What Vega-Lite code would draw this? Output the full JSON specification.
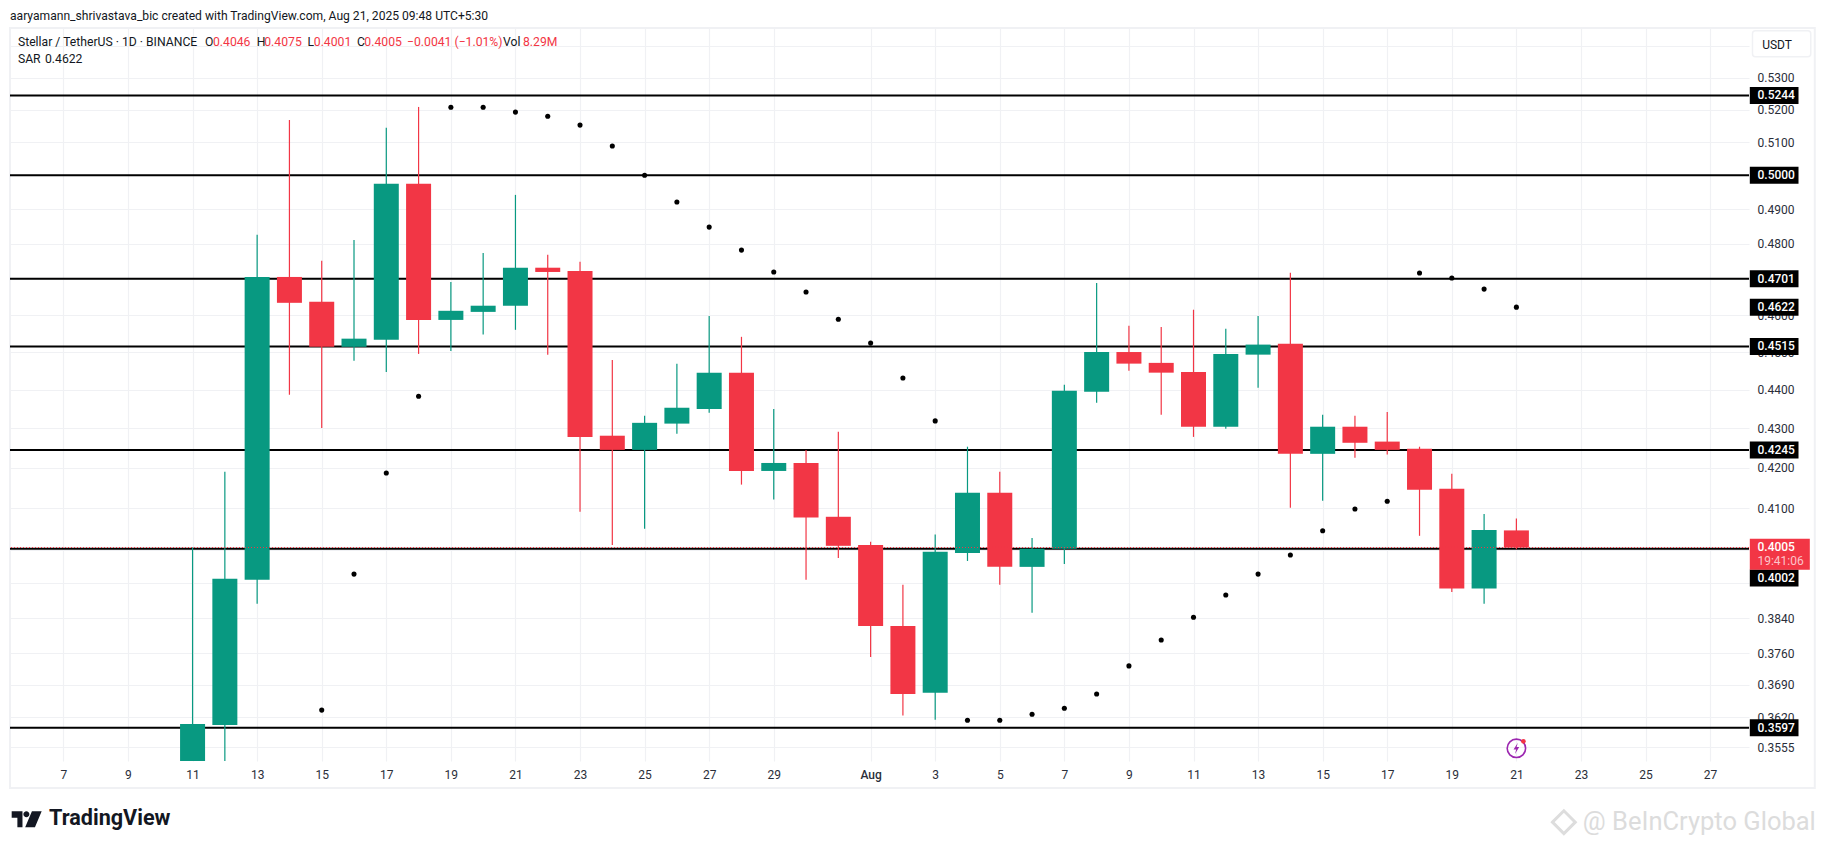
{
  "$schema": "https://vega.github.io/schema/vega-lite/v6.json",
  "autosize": "none",
  "width": 1739,
  "height": 733,
  "padding": {"left": 10, "top": 28, "right": 76, "bottom": 88},
  "background": "white",
  "title": {
    "text": "aaryamann_shrivastava_bic created with TradingView.com, Aug 21, 2025 09:48 UTC+5:30",
    "anchor": "start",
    "frame": "group",
    "offset": 5,
    "font": "Roboto",
    "fontSize": 12.1,
    "fontWeight": "normal",
    "color": "#131722"
  },
  "datasets": {
    "candles": [
      {"date": "2025-07-11", "open": 0.348, "high": 0.4005, "low": 0.34, "close": 0.3605},
      {"date": "2025-07-12", "open": 0.3603, "high": 0.419, "low": 0.345, "close": 0.3931},
      {"date": "2025-07-13", "open": 0.3929, "high": 0.4826, "low": 0.3873, "close": 0.4706},
      {"date": "2025-07-14", "open": 0.4706, "high": 0.5168, "low": 0.4387, "close": 0.4634},
      {"date": "2025-07-15", "open": 0.4637, "high": 0.4752, "low": 0.4301, "close": 0.4514},
      {"date": "2025-07-16", "open": 0.4514, "high": 0.4811, "low": 0.4477, "close": 0.4536},
      {"date": "2025-07-17", "open": 0.4533, "high": 0.5144, "low": 0.4447, "close": 0.4975},
      {"date": "2025-07-18", "open": 0.4975, "high": 0.5208, "low": 0.4495, "close": 0.4587},
      {"date": "2025-07-19", "open": 0.4587, "high": 0.4692, "low": 0.4503, "close": 0.4612},
      {"date": "2025-07-20", "open": 0.4609, "high": 0.4774, "low": 0.4547, "close": 0.4626},
      {"date": "2025-07-21", "open": 0.4626, "high": 0.4942, "low": 0.456, "close": 0.4732},
      {"date": "2025-07-22", "open": 0.4732, "high": 0.4769, "low": 0.4493, "close": 0.472},
      {"date": "2025-07-23", "open": 0.4723, "high": 0.4749, "low": 0.4091, "close": 0.4278},
      {"date": "2025-07-24", "open": 0.4281, "high": 0.4479, "low": 0.4011, "close": 0.4245},
      {"date": "2025-07-25", "open": 0.4245, "high": 0.4332, "low": 0.405, "close": 0.4314},
      {"date": "2025-07-26", "open": 0.4312, "high": 0.4469, "low": 0.4286, "close": 0.4353},
      {"date": "2025-07-27", "open": 0.435, "high": 0.4598, "low": 0.434, "close": 0.4445},
      {"date": "2025-07-28", "open": 0.4445, "high": 0.4541, "low": 0.4158, "close": 0.4192},
      {"date": "2025-07-29", "open": 0.4192, "high": 0.435, "low": 0.4121, "close": 0.4212},
      {"date": "2025-07-30", "open": 0.4212, "high": 0.4245, "low": 0.3929, "close": 0.4077},
      {"date": "2025-07-31", "open": 0.4079, "high": 0.4291, "low": 0.398, "close": 0.4009},
      {"date": "2025-08-01", "open": 0.4011, "high": 0.4019, "low": 0.3752, "close": 0.3822},
      {"date": "2025-08-02", "open": 0.3822, "high": 0.3917, "low": 0.3623, "close": 0.367},
      {"date": "2025-08-03", "open": 0.3673, "high": 0.4036, "low": 0.3614, "close": 0.3995},
      {"date": "2025-08-04", "open": 0.3992, "high": 0.4253, "low": 0.3973, "close": 0.4138},
      {"date": "2025-08-05", "open": 0.4138, "high": 0.419, "low": 0.3917, "close": 0.3959},
      {"date": "2025-08-06", "open": 0.3959, "high": 0.4028, "low": 0.3852, "close": 0.4002},
      {"date": "2025-08-07", "open": 0.4002, "high": 0.4413, "low": 0.3966, "close": 0.4397},
      {"date": "2025-08-08", "open": 0.4395, "high": 0.4689, "low": 0.4366, "close": 0.45},
      {"date": "2025-08-09", "open": 0.45, "high": 0.4571, "low": 0.445, "close": 0.4469},
      {"date": "2025-08-10", "open": 0.4471, "high": 0.4568, "low": 0.4335, "close": 0.4445},
      {"date": "2025-08-11", "open": 0.4447, "high": 0.4615, "low": 0.4278, "close": 0.4304},
      {"date": "2025-08-12", "open": 0.4304, "high": 0.4563, "low": 0.4299, "close": 0.4495},
      {"date": "2025-08-13", "open": 0.4493, "high": 0.4598, "low": 0.4405, "close": 0.452},
      {"date": "2025-08-14", "open": 0.4522, "high": 0.4718, "low": 0.4101, "close": 0.4235},
      {"date": "2025-08-15", "open": 0.4235, "high": 0.4335, "low": 0.4118, "close": 0.4304},
      {"date": "2025-08-16", "open": 0.4304, "high": 0.4332, "low": 0.4225, "close": 0.4263},
      {"date": "2025-08-17", "open": 0.4266, "high": 0.4342, "low": 0.4233, "close": 0.4245},
      {"date": "2025-08-18", "open": 0.4248, "high": 0.4253, "low": 0.4033, "close": 0.4145},
      {"date": "2025-08-19", "open": 0.4148, "high": 0.4185, "low": 0.39, "close": 0.3908},
      {"date": "2025-08-20", "open": 0.3908, "high": 0.4086, "low": 0.3873, "close": 0.4047},
      {"date": "2025-08-21", "open": 0.4046, "high": 0.4075, "low": 0.4001, "close": 0.4005}
    ],
    "sar": [
      {"date": "2025-07-15", "sar": 0.3635},
      {"date": "2025-07-16", "sar": 0.3942},
      {"date": "2025-07-17", "sar": 0.4187},
      {"date": "2025-07-18", "sar": 0.4383},
      {"date": "2025-07-19", "sar": 0.5207},
      {"date": "2025-07-20", "sar": 0.5207},
      {"date": "2025-07-21", "sar": 0.5192},
      {"date": "2025-07-22", "sar": 0.5179},
      {"date": "2025-07-23", "sar": 0.5152},
      {"date": "2025-07-24", "sar": 0.5088},
      {"date": "2025-07-25", "sar": 0.5},
      {"date": "2025-07-26", "sar": 0.4921},
      {"date": "2025-07-27", "sar": 0.4848},
      {"date": "2025-07-28", "sar": 0.4782},
      {"date": "2025-07-29", "sar": 0.472},
      {"date": "2025-07-30", "sar": 0.4664},
      {"date": "2025-07-31", "sar": 0.4589},
      {"date": "2025-08-01", "sar": 0.4524},
      {"date": "2025-08-02", "sar": 0.4431},
      {"date": "2025-08-03", "sar": 0.4319},
      {"date": "2025-08-04", "sar": 0.3613},
      {"date": "2025-08-05", "sar": 0.3613},
      {"date": "2025-08-06", "sar": 0.3626},
      {"date": "2025-08-07", "sar": 0.3639},
      {"date": "2025-08-08", "sar": 0.367},
      {"date": "2025-08-09", "sar": 0.3732},
      {"date": "2025-08-10", "sar": 0.379},
      {"date": "2025-08-11", "sar": 0.3842},
      {"date": "2025-08-12", "sar": 0.3893},
      {"date": "2025-08-13", "sar": 0.3942},
      {"date": "2025-08-14", "sar": 0.3987},
      {"date": "2025-08-15", "sar": 0.4045},
      {"date": "2025-08-16", "sar": 0.4098},
      {"date": "2025-08-17", "sar": 0.4117},
      {"date": "2025-08-18", "sar": 0.4717},
      {"date": "2025-08-19", "sar": 0.4703},
      {"date": "2025-08-20", "sar": 0.4672},
      {"date": "2025-08-21", "sar": 0.4622}
    ],
    "levels": [
      {"level": 0.5244},
      {"level": 0.5},
      {"level": 0.4701},
      {"level": 0.4515},
      {"level": 0.4245},
      {"level": 0.4002},
      {"level": 0.3597}
    ],
    "tags": [
      {"label": "0.5244", "at": 0.5244},
      {"label": "0.5000", "at": 0.5},
      {"label": "0.4701", "at": 0.4701},
      {"label": "0.4622", "at": 0.4622},
      {"label": "0.4515", "at": 0.4515},
      {"label": "0.4245", "at": 0.4245},
      {"label": "0.4002", "at": 0.3933},
      {"label": "0.3597", "at": 0.3597}
    ]
  },
  "layer": [
    {
      "data": {"values": [{"name": "frame"}]},
      "mark": {"type": "rect", "fillOpacity": 0, "stroke": "#f0f1f4", "strokeWidth": 2},
      "encoding": {
        "x": {"datum": {"year": 2025, "month": 7, "date": 5, "hours": 8, "minutes": 18, "utc": true}, "type": "temporal"},
        "x2": {"datum": {"year": 2025, "month": 8, "date": 30, "hours": 5, "minutes": 48, "utc": true}},
        "y": {"datum": 0.5459, "type": "quantitative"},
        "y2": {"datum": 0.347}
      }
    },
    {
      "data": {"name": "levels"},
      "mark": {"type": "rule", "color": "#000000", "strokeWidth": 2},
      "encoding": {
        "y": {
          "field": "level",
          "type": "quantitative",
          "scale": {"type": "log", "domain": [0.35263, 0.5459], "nice": false, "zero": false},
          "axis": {
            "title": null,
            "orient": "right",
            "values": [0.54, 0.53, 0.52, 0.51, 0.5, 0.49, 0.48, 0.47, 0.46, 0.45, 0.44, 0.43, 0.42, 0.41, 0.4, 0.392, 0.384, 0.376, 0.369, 0.362, 0.3555],
            "labelExpr": "indexof([0.54, 0.5, 0.47, 0.4, 0.392], datum.value) >= 0 ? '' : format(datum.value, '.4f')",
            "domain": false,
            "ticks": false,
            "labelPadding": 8,
            "labelOverlap": false,
            "labelFlush": false
          }
        }
      }
    },
    {
      "data": {"name": "candles"},
      "mark": {"type": "rule", "strokeWidth": 1.2, "clip": true},
      "encoding": {
        "x": {
          "field": "date",
          "type": "temporal",
          "scale": {"type": "utc", "nice": false, "padding": 0, "domain": ["2025-07-05T08:18:00Z", "2025-08-28T04:54:00Z"]},
          "axis": {
            "title": null,
            "orient": "bottom",
            "values": ["2025-07-07", "2025-07-09", "2025-07-11", "2025-07-13", "2025-07-15", "2025-07-17", "2025-07-19", "2025-07-21", "2025-07-23", "2025-07-25", "2025-07-27", "2025-07-29", "2025-08-01", "2025-08-03", "2025-08-05", "2025-08-07", "2025-08-09", "2025-08-11", "2025-08-13", "2025-08-15", "2025-08-17", "2025-08-19", "2025-08-21", "2025-08-23", "2025-08-25", "2025-08-27"],
            "labelExpr": "utcdate(datum.value) == 1 ? 'Aug' : utcdate(datum.value) + ''",
            "labelFontWeight": {"condition": {"test": "utcdate(datum.value) == 1", "value": 500}, "value": 400},
            "domain": false,
            "ticks": false,
            "labelPadding": 8,
            "labelOverlap": false,
            "labelFlush": false
          }
        },
        "y": {"field": "low", "type": "quantitative"},
        "y2": {"field": "high"},
        "color": {"condition": {"test": "datum.close >= datum.open", "value": "#089981"}, "value": "#f23645"}
      }
    },
    {
      "data": {"name": "candles"},
      "mark": {"type": "bar", "width": 25, "clip": true},
      "encoding": {
        "x": {"field": "date", "type": "temporal"},
        "y": {"field": "open", "type": "quantitative"},
        "y2": {"field": "close"},
        "color": {"condition": {"test": "datum.close >= datum.open", "value": "#089981"}, "value": "#f23645"}
      }
    },
    {
      "data": {"values": [{"price": 0.4005}]},
      "mark": {"type": "rule", "color": "#f23645", "strokeWidth": 1, "strokeDash": [1, 2]},
      "encoding": {"y": {"field": "price", "type": "quantitative"}}
    },
    {
      "data": {"name": "sar"},
      "mark": {"type": "circle", "size": 26, "color": "#000000", "opacity": 1},
      "encoding": {
        "x": {"field": "date", "type": "temporal"},
        "y": {"field": "sar", "type": "quantitative"}
      }
    },
    {
      "data": {"values": [{"name": "usdt box"}]},
      "mark": {"type": "rect", "fill": "white", "stroke": "#f0f1f4", "strokeWidth": 1.5, "cornerRadius": 3},
      "encoding": {
        "x": {"datum": {"year": 2025, "month": 8, "date": 28, "hours": 7, "minutes": 30, "utc": true}, "type": "temporal"},
        "x2": {"datum": {"year": 2025, "month": 8, "date": 30, "hours": 2, "minutes": 48, "utc": true}},
        "y": {"datum": 0.545, "type": "quantitative"},
        "y2": {"datum": 0.5366}
      }
    },
    {
      "data": {"values": [{"label": "USDT"}]},
      "mark": {"type": "text", "align": "left", "font": "Roboto", "fontSize": 12, "color": "#131722"},
      "encoding": {
        "text": {"field": "label"},
        "x": {"datum": {"year": 2025, "month": 8, "date": 28, "hours": 14, "minutes": 42, "utc": true}, "type": "temporal"},
        "y": {"datum": 0.5405, "type": "quantitative"}
      }
    },
    {
      "data": {"name": "tags"},
      "mark": {"type": "rule", "color": "#000000", "strokeWidth": 17},
      "encoding": {
        "x": {"datum": {"year": 2025, "month": 8, "date": 28, "hours": 5, "minutes": 30, "utc": true}, "type": "temporal"},
        "x2": {"datum": {"year": 2025, "month": 8, "date": 29, "hours": 17, "minutes": 42, "utc": true}},
        "y": {"field": "at", "type": "quantitative"}
      }
    },
    {
      "data": {"name": "tags"},
      "mark": {"type": "text", "align": "left", "font": "Roboto", "fontSize": 12, "fontWeight": 500, "color": "#ffffff"},
      "encoding": {
        "text": {"field": "label"},
        "x": {"datum": {"year": 2025, "month": 8, "date": 28, "hours": 11, "minutes": 12, "utc": true}, "type": "temporal"},
        "y": {"field": "at", "type": "quantitative"}
      }
    },
    {
      "data": {"values": [{"name": "price tag"}]},
      "mark": {"type": "rect", "fill": "#f23645"},
      "encoding": {
        "x": {"datum": {"year": 2025, "month": 8, "date": 28, "hours": 5, "minutes": 30, "utc": true}, "type": "temporal"},
        "x2": {"datum": {"year": 2025, "month": 8, "date": 30, "hours": 2, "minutes": 6, "utc": true}},
        "y": {"datum": 0.4026, "type": "quantitative"},
        "y2": {"datum": 0.3952}
      }
    },
    {
      "data": {"values": [{"label": "0.4005"}]},
      "mark": {"type": "text", "align": "left", "font": "Roboto", "fontSize": 12, "fontWeight": 500, "color": "#ffffff"},
      "encoding": {
        "text": {"field": "label"},
        "x": {"datum": {"year": 2025, "month": 8, "date": 28, "hours": 11, "minutes": 12, "utc": true}, "type": "temporal"},
        "y": {"datum": 0.4005, "type": "quantitative"}
      }
    },
    {
      "data": {"values": [{"label": "19:41:06"}]},
      "mark": {"type": "text", "align": "left", "font": "Roboto", "fontSize": 12, "color": "#fcc4c9"},
      "encoding": {
        "text": {"field": "label"},
        "x": {"datum": {"year": 2025, "month": 8, "date": 28, "hours": 11, "minutes": 12, "utc": true}, "type": "temporal"},
        "y": {"datum": 0.3972, "type": "quantitative"}
      }
    },
    {
      "data": {"values": [{"name": "bolt ring"}]},
      "mark": {"type": "point", "shape": "circle", "filled": false, "size": 340, "stroke": "#9c27b0", "strokeWidth": 1.6, "opacity": 1},
      "encoding": {
        "x": {"datum": {"year": 2025, "month": 8, "date": 21, "utc": true}, "type": "temporal"},
        "y": {"datum": 0.3553, "type": "quantitative"}
      }
    },
    {
      "data": {"values": [{"name": "bolt"}]},
      "mark": {"type": "point", "shape": "M0.2,-0.8 L-0.4,0.15 L-0.03,0.15 L-0.2,0.8 L0.4,-0.2 L0.03,-0.2 Z", "filled": true, "size": 200, "color": "#9c27b0", "opacity": 1},
      "encoding": {
        "x": {"datum": {"year": 2025, "month": 8, "date": 21, "utc": true}, "type": "temporal"},
        "y": {"datum": 0.3553, "type": "quantitative"}
      }
    },
    {
      "data": {"values": [{"name": "bolt dot"}]},
      "mark": {"type": "circle", "size": 22, "color": "#f23645", "opacity": 1},
      "encoding": {
        "x": {"datum": {"year": 2025, "month": 8, "date": 21, "hours": 5, "minutes": 12, "utc": true}, "type": "temporal"},
        "y": {"datum": 0.3568, "type": "quantitative"}
      }
    },
    {
      "data": {"values": [{"label": "Stellar / TetherUS · 1D · BINANCE"}]},
      "mark": {"type": "text", "align": "left", "font": "Roboto", "fontSize": 12.2, "color": "#131722"},
      "encoding": {"text": {"field": "label"}, "x": {"datum": {"year": 2025, "month": 7, "date": 5, "hours": 14, "minutes": 12, "utc": true}, "type": "temporal"}, "y": {"datum": 0.5414, "type": "quantitative"}}
    },
    {
      "data": {"values": [{"label": "O"}]},
      "mark": {"type": "text", "align": "left", "font": "Roboto", "fontSize": 12.2, "color": "#131722"},
      "encoding": {"text": {"field": "label"}, "x": {"datum": {"year": 2025, "month": 7, "date": 11, "hours": 9, "minutes": 12, "utc": true}, "type": "temporal"}, "y": {"datum": 0.5414, "type": "quantitative"}}
    },
    {
      "data": {"values": [{"label": "0.4046"}]},
      "mark": {"type": "text", "align": "left", "font": "Roboto", "fontSize": 12.2, "color": "#f23645"},
      "encoding": {"text": {"field": "label"}, "x": {"datum": {"year": 2025, "month": 7, "date": 11, "hours": 15, "minutes": 12, "utc": true}, "type": "temporal"}, "y": {"datum": 0.5414, "type": "quantitative"}}
    },
    {
      "data": {"values": [{"label": "H"}]},
      "mark": {"type": "text", "align": "left", "font": "Roboto", "fontSize": 12.2, "color": "#131722"},
      "encoding": {"text": {"field": "label"}, "x": {"datum": {"year": 2025, "month": 7, "date": 12, "hours": 23, "minutes": 42, "utc": true}, "type": "temporal"}, "y": {"datum": 0.5414, "type": "quantitative"}}
    },
    {
      "data": {"values": [{"label": "0.4075"}]},
      "mark": {"type": "text", "align": "left", "font": "Roboto", "fontSize": 12.2, "color": "#f23645"},
      "encoding": {"text": {"field": "label"}, "x": {"datum": {"year": 2025, "month": 7, "date": 13, "hours": 5, "minutes": 18, "utc": true}, "type": "temporal"}, "y": {"datum": 0.5414, "type": "quantitative"}}
    },
    {
      "data": {"values": [{"label": "L"}]},
      "mark": {"type": "text", "align": "left", "font": "Roboto", "fontSize": 12.2, "color": "#131722"},
      "encoding": {"text": {"field": "label"}, "x": {"datum": {"year": 2025, "month": 7, "date": 14, "hours": 13, "minutes": 30, "utc": true}, "type": "temporal"}, "y": {"datum": 0.5414, "type": "quantitative"}}
    },
    {
      "data": {"values": [{"label": "0.4001"}]},
      "mark": {"type": "text", "align": "left", "font": "Roboto", "fontSize": 12.2, "color": "#f23645"},
      "encoding": {"text": {"field": "label"}, "x": {"datum": {"year": 2025, "month": 7, "date": 14, "hours": 18, "minutes": 6, "utc": true}, "type": "temporal"}, "y": {"datum": 0.5414, "type": "quantitative"}}
    },
    {
      "data": {"values": [{"label": "C"}]},
      "mark": {"type": "text", "align": "left", "font": "Roboto", "fontSize": 12.2, "color": "#131722"},
      "encoding": {"text": {"field": "label"}, "x": {"datum": {"year": 2025, "month": 7, "date": 16, "hours": 2, "minutes": 12, "utc": true}, "type": "temporal"}, "y": {"datum": 0.5414, "type": "quantitative"}}
    },
    {
      "data": {"values": [{"label": "0.4005"}]},
      "mark": {"type": "text", "align": "left", "font": "Roboto", "fontSize": 12.2, "color": "#f23645"},
      "encoding": {"text": {"field": "label"}, "x": {"datum": {"year": 2025, "month": 7, "date": 16, "hours": 7, "minutes": 42, "utc": true}, "type": "temporal"}, "y": {"datum": 0.5414, "type": "quantitative"}}
    },
    {
      "data": {"values": [{"label": "−0.0041 (−1.01%)"}]},
      "mark": {"type": "text", "align": "left", "font": "Roboto", "fontSize": 12.2, "color": "#f23645"},
      "encoding": {"text": {"field": "label"}, "x": {"datum": {"year": 2025, "month": 7, "date": 17, "hours": 15, "minutes": 24, "utc": true}, "type": "temporal"}, "y": {"datum": 0.5414, "type": "quantitative"}}
    },
    {
      "data": {"values": [{"label": "Vol"}]},
      "mark": {"type": "text", "align": "left", "font": "Roboto", "fontSize": 12.2, "color": "#131722"},
      "encoding": {"text": {"field": "label"}, "x": {"datum": {"year": 2025, "month": 7, "date": 20, "hours": 14, "minutes": 48, "utc": true}, "type": "temporal"}, "y": {"datum": 0.5414, "type": "quantitative"}}
    },
    {
      "data": {"values": [{"label": "8.29M"}]},
      "mark": {"type": "text", "align": "left", "font": "Roboto", "fontSize": 12.2, "color": "#f23645"},
      "encoding": {"text": {"field": "label"}, "x": {"datum": {"year": 2025, "month": 7, "date": 21, "hours": 5, "minutes": 36, "utc": true}, "type": "temporal"}, "y": {"datum": 0.5414, "type": "quantitative"}}
    },
    {
      "data": {"values": [{"label": "SAR"}]},
      "mark": {"type": "text", "align": "left", "font": "Roboto", "fontSize": 12.2, "color": "#131722"},
      "encoding": {"text": {"field": "label"}, "x": {"datum": {"year": 2025, "month": 7, "date": 5, "hours": 14, "minutes": 12, "utc": true}, "type": "temporal"}, "y": {"datum": 0.5359, "type": "quantitative"}}
    },
    {
      "data": {"values": [{"label": "0.4622"}]},
      "mark": {"type": "text", "align": "left", "font": "Roboto", "fontSize": 12.2, "color": "#131722"},
      "encoding": {"text": {"field": "label"}, "x": {"datum": {"year": 2025, "month": 7, "date": 6, "hours": 10, "minutes": 18, "utc": true}, "type": "temporal"}, "y": {"datum": 0.5359, "type": "quantitative"}}
    },
    {
      "data": {"values": [{"name": "logo"}]},
      "mark": {"type": "point", "shape": "M-1,-0.53 L-0.28,-0.53 L-0.28,0.53 L-0.62,0.53 L-0.62,-0.1 L-1,-0.1 Z M-0.22,-0.33 A0.2,0.2 0 1 1 0.18,-0.33 A0.2,0.2 0 1 1 -0.22,-0.33 Z M0.35,-0.53 L1,-0.53 L0.55,0.53 L-0.1,0.53 Z", "filled": true, "size": 900, "color": "#131722", "opacity": 1},
      "encoding": {
        "x": {"datum": {"year": 2025, "month": 7, "date": 5, "hours": 20, "minutes": 42, "utc": true}, "type": "temporal"},
        "y": {"datum": 0.3406, "type": "quantitative"}
      }
    },
    {
      "data": {"values": [{"label": "TradingView"}]},
      "mark": {"type": "text", "align": "left", "font": "Roboto", "fontSize": 21.6, "fontWeight": 700, "color": "#131722"},
      "encoding": {"text": {"field": "label"}, "x": {"datum": {"year": 2025, "month": 7, "date": 6, "hours": 13, "minutes": 18, "utc": true}, "type": "temporal"}, "y": {"datum": 0.3406, "type": "quantitative"}}
    },
    {
      "data": {"values": [{"name": "watermark"}]},
      "mark": {"type": "point", "shape": "diamond", "filled": false, "size": 520, "stroke": "#dddddd", "strokeWidth": 3, "opacity": 1},
      "encoding": {
        "x": {"datum": {"year": 2025, "month": 8, "date": 22, "hours": 11, "minutes": 18, "utc": true}, "type": "temporal"},
        "y": {"datum": 0.34, "type": "quantitative"}
      }
    },
    {
      "data": {"values": [{"label": "@ BeInCrypto Global"}]},
      "mark": {"type": "text", "align": "left", "font": "Roboto", "fontSize": 25.5, "color": "#dcdcdc"},
      "encoding": {"text": {"field": "label"}, "x": {"datum": {"year": 2025, "month": 8, "date": 23, "hours": 1, "minutes": 24, "utc": true}, "type": "temporal"}, "y": {"datum": 0.34, "type": "quantitative"}}
    }
  ],
  "config": {
    "view": {"stroke": null},
    "axis": {
      "grid": true,
      "gridColor": "#f0f1f4",
      "gridWidth": 1.2,
      "labelFont": "Roboto",
      "labelFontSize": 12,
      "labelColor": "#2a2e39"
    }
  }
}
